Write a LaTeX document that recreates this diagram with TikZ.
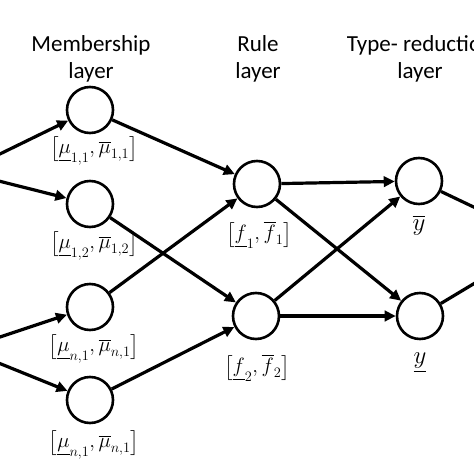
\documentclass[tikz,border=0pt]{standalone}
\usepackage{amsmath}
\usepackage{fontspec}
\setmainfont{Carlito}
\usetikzlibrary{arrows.meta}
\tikzset{
  neuron/.style={draw, circle, line width=2.6pt, minimum size=46pt, inner sep=0pt},
  link/.style={line width=3.2pt, -{Triangle[length=11pt,width=10.5pt]}},
  plain/.style={line width=3.2pt},
  title/.style={align=center, font=\fontsize{23}{27}\selectfont},
  bound/.style={font=\fontsize{21}{24}\selectfont}
}
\newcommand{\mubound}[1]{$\big[\underline{\mu}_{#1},\overline{\mu}_{#1}\big]$}
\newcommand{\fbound}[1]{$\big[\underline{f}_{#1},\overline{f}_{#1}\big]$}

\begin{document}
\begin{tikzpicture}[x=1pt, y=-1pt]
        \useasboundingbox (0,0) rectangle (474,474);
        \clip (0,0) rectangle (474,474);
        % titles
        \node[title] (tm) at (91,59) {Membership\\layer};
        \node[title] (tr) at (258,59) {Rule\\layer};
        \node[title] (tt) at (420,59) {Type- reduction\\layer};
        % inputs and output (outside the frame)
        \coordinate (x1) at (-37,172);
        \coordinate (xn) at (-36,349);
        \coordinate (out) at (545,241);
        % membership layer
        \node[neuron] (m1) at (90,110) {};
        \node[neuron] (m2) at (90,204) {};
        \node[neuron] (m3) at (90,307) {};
        \node[neuron] (m4) at (90,400) {};
        \node[bound] (m1b) at (94,151) {\mubound{1,1}};
        \node[bound] (m2b) at (94,246) {\mubound{1,2}};
        \node[bound] (m3b) at (94,349) {\mubound{n,1}};
        \node[bound] (m4b) at (94,445) {\mubound{n,1}};
        % rule layer
        \node[neuron] (r1) at (257,184) {};
        \node[neuron] (r2) at (256,316) {};
        \node[bound] (r1b) at (259,235) {\fbound{1}};
        \node[bound] (r2b) at (257,368) {\fbound{2}};
        % type-reduction layer
        \node[neuron] (t1) at (419,181) {};
        \node[neuron] (t2) at (420,316) {};
        \node[bound, font=\fontsize{24}{26}\selectfont] (t1b) at (419,225) {$\overline{y}$};
        \node[bound, font=\fontsize{24}{26}\selectfont] (t2b) at (420,363) {$\underline{y}$};
        % links
        \draw[link] (x1) -- (m1);
        \draw[link] (x1) -- (m2);
        \draw[link] (xn) -- (m3);
        \draw[link] (xn) -- (m4);
        \draw[link] (m1) -- (r1);
        \draw[link] (m2) -- (r2);
        \draw[link] (m3) -- (r1);
        \draw[link] (m4) -- (r2);
        \draw[link] (r1) -- (t1);
        \draw[link] (r1) -- (t2);
        \draw[link] (r2) -- (t1);
        \draw[link] (r2) -- (t2);
        \draw[plain] (t1) -- (out);
        \draw[plain] (t2) -- (out);
\end{tikzpicture}
\end{document}
